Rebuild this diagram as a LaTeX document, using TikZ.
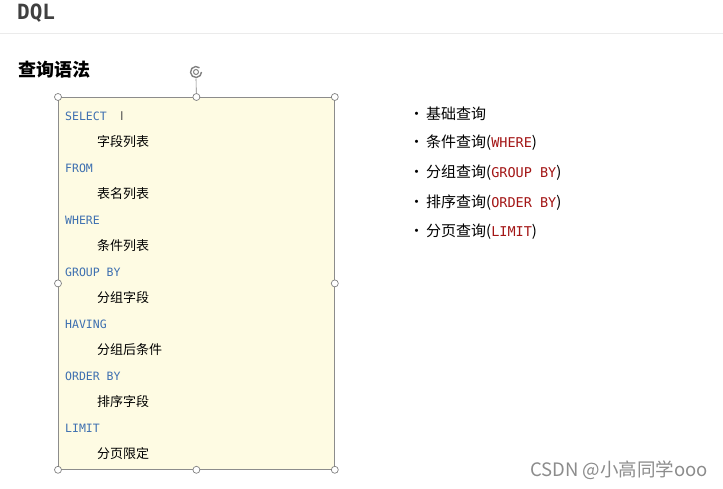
\documentclass[tikz,border=0pt]{standalone}
\usepackage{fontspec}
\setmainfont{Noto Sans CJK SC}
\newfontfamily\cjk{Noto Sans CJK SC}
\newfontfamily\monof{DejaVu Sans Mono}
\definecolor{kw}{HTML}{3D6FB0}
\definecolor{kr}{HTML}{A31515}
\definecolor{boxfill}{HTML}{FEFBE3}
\begin{document}
\begin{tikzpicture}[x=1pt,y=-1pt,
  kwt/.style={anchor=west,inner sep=0,font=\monof\fontsize{11.5}{12}\selectfont,text=kw},
  cnt/.style={anchor=west,inner sep=0,font=\cjk\fontsize{13}{14}\selectfont},
  bul/.style={anchor=west,inner sep=0,font=\cjk\fontsize{15}{16}\selectfont},
  handle/.style={circle,draw=gray,fill=white,inner sep=0,minimum size=7pt,line width=0.7pt}]
\useasboundingbox[fill=white] (0,0) rectangle (723,489);
\node[anchor=west,inner sep=0,font=\monof\bfseries\fontsize{21}{22}\selectfont,text=black!75] (dql) at (17,13) {DQL};
\draw[black!8,line width=0.8pt] (0,33) -- (723,33);
\node[anchor=west,inner sep=0,font=\cjk\bfseries\fontsize{18}{20}\selectfont] (title) at (18,70) {查询语法};
\node[draw=black!45,fill=boxfill,line width=0.8pt,minimum width=276pt,minimum height=372pt,inner sep=0,anchor=north west] (box) at (58,97) {};
\node[kwt] (s1) at (65,116) {SELECT};
\node[anchor=west,inner sep=0,font=\fontsize{12}{12}\selectfont,text=black!70] (cur) at (120,116) {I};
\node[cnt] (c1) at (97,142) {字段列表};
\node[kwt] (s2) at (65,168) {FROM};
\node[cnt] (c2) at (97,194) {表名列表};
\node[kwt] (s3) at (65,220) {WHERE};
\node[cnt] (c3) at (97,246) {条件列表};
\node[kwt] (s4) at (65,272) {GROUP BY};
\node[cnt] (c4) at (97,298) {分组字段};
\node[kwt] (s5) at (65,324) {HAVING};
\node[cnt] (c5) at (97,350) {分组后条件};
\node[kwt] (s6) at (65,376) {ORDER BY};
\node[cnt] (c6) at (97,402) {排序字段};
\node[kwt] (s7) at (65,428) {LIMIT};
\node[cnt] (c7) at (97,454) {分页限定};
% handles
\node[circle,inner sep=0,minimum size=13pt] (rot) at (196,72) {};
\draw[gray,line width=1.4pt] ([shift={(50:5.5pt)}]rot.center) arc[start angle=50,end angle=360,radius=5.5pt];
\draw[gray,line width=1pt] (rot.center) circle[radius=2.5pt];
\draw[gray,line width=0.6pt] (rot.south) -- (box.north);
\foreach \a in {north west,north,north east,west,east,south west,south,south east}
  \node[handle] at (box.\a) {};
% bullets
\node[bul] (b1) at (409,114) {•\hspace{2pt}基础查询};
\node[bul] (b2) at (409,143) {•\hspace{2pt}条件查询({\monof\fontsize{13.5}{15}\selectfont\color{kr}WHERE})};
\node[bul] (b3) at (409,173) {•\hspace{2pt}分组查询({\monof\fontsize{13.5}{15}\selectfont\color{kr}GROUP BY})};
\node[bul] (b4) at (409,203) {•\hspace{2pt}排序查询({\monof\fontsize{13.5}{15}\selectfont\color{kr}ORDER BY})};
\node[bul] (b5) at (409,232) {•\hspace{2pt}分页查询({\monof\fontsize{13.5}{15}\selectfont\color{kr}LIMIT})};
\node[anchor=east,inner sep=0,font=\cjk\fontsize{18.5}{20}\selectfont,text=black!45] (wm) at (708,470) {CSDN @小高同学ooo};
\end{tikzpicture}
\end{document}
